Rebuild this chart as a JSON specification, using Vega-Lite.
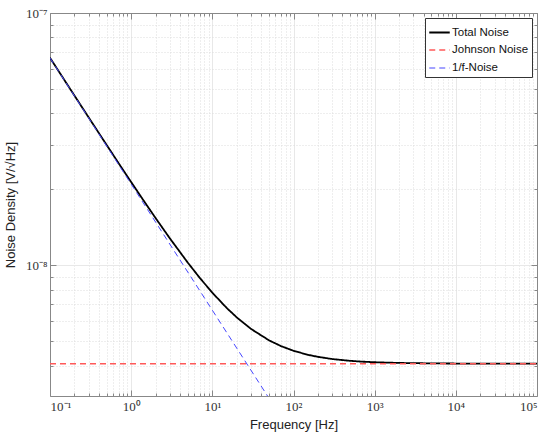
{
  "$schema": "https://vega.github.io/schema/vega-lite/v6.json",
  "width": 487,
  "height": 383,
  "autosize": "none",
  "padding": {"left": 50, "top": 13, "right": 13, "bottom": 41},
  "background": "white",
  "config": {
    "view": {"stroke": null},
    "axis": {
      "domainColor": "#888888",
      "tickColor": "#888888",
      "labelFont": "Liberation Serif",
      "labelFontSize": 13,
      "labelColor": "#333333",
      "titleFont": "Liberation Sans",
      "titleFontSize": 13,
      "titleFontWeight": "normal",
      "titleColor": "#222222"
    },
    "legend": {
      "labelFont": "Liberation Sans",
      "labelFontSize": 11.5,
      "labelColor": "#111111"
    }
  },
  "data": {
    "values": [
      {"f": 0.1, "v": 6.643e-8, "s": "Total Noise"},
      {"f": 0.2, "v": 4.706e-8, "s": "Total Noise"},
      {"f": 0.3, "v": 3.850e-8, "s": "Total Noise"},
      {"f": 0.5, "v": 2.993e-8, "s": "Total Noise"},
      {"f": 0.7, "v": 2.539e-8, "s": "Total Noise"},
      {"f": 1, "v": 2.136e-8, "s": "Total Noise"},
      {"f": 1.5, "v": 1.760e-8, "s": "Total Noise"},
      {"f": 2, "v": 1.5376e-8, "s": "Total Noise"},
      {"f": 3, "v": 1.2773e-8, "s": "Total Noise"},
      {"f": 5, "v": 1.0223e-8, "s": "Total Noise"},
      {"f": 7, "v": 8.909e-9, "s": "Total Noise"},
      {"f": 10, "v": 7.780e-9, "s": "Total Noise"},
      {"f": 15, "v": 6.773e-9, "s": "Total Noise"},
      {"f": 20, "v": 6.209e-9, "s": "Total Noise"},
      {"f": 30, "v": 5.588e-9, "s": "Total Noise"},
      {"f": 50, "v": 5.036e-9, "s": "Total Noise"},
      {"f": 70, "v": 4.780e-9, "s": "Total Noise"},
      {"f": 100, "v": 4.578e-9, "s": "Total Noise"},
      {"f": 150, "v": 4.415e-9, "s": "Total Noise"},
      {"f": 200, "v": 4.332e-9, "s": "Total Noise"},
      {"f": 300, "v": 4.246e-9, "s": "Total Noise"},
      {"f": 500, "v": 4.177e-9, "s": "Total Noise"},
      {"f": 700, "v": 4.146e-9, "s": "Total Noise"},
      {"f": 1000, "v": 4.1237e-9, "s": "Total Noise"},
      {"f": 2000, "v": 4.097e-9, "s": "Total Noise"},
      {"f": 5000, "v": 4.081e-9, "s": "Total Noise"},
      {"f": 10000, "v": 4.0754e-9, "s": "Total Noise"},
      {"f": 100000, "v": 4.0705e-9, "s": "Total Noise"},
      {"f": 0.1, "v": 4.07e-9, "s": "Johnson Noise"},
      {"f": 100000, "v": 4.07e-9, "s": "Johnson Noise"},
      {"f": 0.1, "v": 6.631e-8, "s": "1/f-Noise"},
      {"f": 60, "v": 2.707e-9, "s": "1/f-Noise"}
    ]
  },
  "resolve": {"axis": {"x": "independent", "y": "independent"}},
  "layer": [
    {
      "mark": {"type": "line", "clip": true},
      "encoding": {
        "x": {
          "field": "f", "type": "quantitative",
          "scale": {"type": "log", "domain": [0.1, 100000], "nice": false},
          "axis": {
            "orient": "bottom",
            "values": [0.1, 1, 10, 100, 1000, 10000, 100000],
            "labelExpr": "'10' + ['⁻¹','⁰','¹','²','³','⁴','⁵'][round(log(datum.value)/LN10) + 1]",
            "tickSize": -6,
            "labelPadding": 10,
            "grid": true,
            "gridColor": "#e8e8e8",
            "title": "Frequency [Hz]",
            "titlePadding": 5
          }
        },
        "y": {
          "field": "v", "type": "quantitative",
          "scale": {"type": "log", "domain": [3.03e-9, 1e-7], "nice": false},
          "axis": {
            "orient": "left",
            "values": [1e-8, 1e-7],
            "labelExpr": "datum.value < 5e-8 ? '10⁻⁸' : '10⁻⁷'",
            "tickSize": -6,
            "labelPadding": 9,
            "grid": true,
            "gridColor": "#e8e8e8",
            "title": "Noise Density [V/√Hz]",
            "titlePadding": 8
          }
        },
        "color": {
          "field": "s", "type": "nominal",
          "scale": {"domain": ["Total Noise", "Johnson Noise", "1/f-Noise"], "range": ["#000000", "#ff5a5a", "#4646ff"]},
          "legend": {
            "title": null,
            "orient": "top-right",
            "offset": 5,
            "symbolType": "stroke",
            "symbolSize": 420,
            "symbolStrokeWidth": 1.3,
            "fillColor": "white",
            "strokeColor": "#333333",
            "padding": 3,
            "rowPadding": 1,
            "labelOffset": 1
          }
        },
        "strokeDash": {
          "field": "s", "type": "nominal",
          "scale": {"domain": ["Total Noise", "Johnson Noise", "1/f-Noise"], "range": [[1, 0], [6, 4], [6, 4]]},
          "legend": {"title": null}
        },
        "strokeWidth": {
          "field": "s", "type": "nominal",
          "scale": {"domain": ["Total Noise", "Johnson Noise", "1/f-Noise"], "range": [1.8, 1, 0.9]},
          "legend": null
        }
      }
    },
    {
      "mark": {"type": "line", "opacity": 0},
      "encoding": {
        "x": {
          "field": "f", "type": "quantitative",
          "axis": {
            "orient": "bottom",
            "values": [0.2, 0.3, 0.4, 0.5, 0.6, 0.7, 0.8, 0.9, 2, 3, 4, 5, 6, 7, 8, 9, 20, 30, 40, 50, 60, 70, 80, 90, 200, 300, 400, 500, 600, 700, 800, 900, 2000, 3000, 4000, 5000, 6000, 7000, 8000, 9000, 20000, 30000, 40000, 50000, 60000, 70000, 80000, 90000],
            "labels": false,
            "domain": false,
            "tickSize": -3,
            "grid": true,
            "gridColor": "#dddddd",
            "gridDash": [1, 2],
            "title": null
          }
        },
        "y": {
          "field": "v", "type": "quantitative",
          "axis": {
            "orient": "left",
            "values": [4e-9, 5e-9, 6e-9, 7e-9, 8e-9, 9e-9, 2e-8, 3e-8, 4e-8, 5e-8, 6e-8, 7e-8, 8e-8, 9e-8],
            "labels": false,
            "domain": false,
            "tickSize": -3,
            "grid": true,
            "gridColor": "#dddddd",
            "gridDash": [1, 2],
            "title": null
          }
        }
      }
    },
    {
      "mark": {"type": "line", "opacity": 0},
      "encoding": {
        "x": {
          "field": "f", "type": "quantitative",
          "axis": {
            "orient": "top",
            "values": [0.1, 1, 10, 100, 1000, 10000, 100000],
            "labels": false,
            "tickSize": -6,
            "grid": false,
            "title": null
          }
        },
        "y": {
          "field": "v", "type": "quantitative",
          "axis": {
            "orient": "right",
            "values": [1e-8, 1e-7],
            "labels": false,
            "tickSize": -6,
            "grid": false,
            "title": null
          }
        }
      }
    },
    {
      "mark": {"type": "line", "opacity": 0},
      "encoding": {
        "x": {
          "field": "f", "type": "quantitative",
          "axis": {
            "orient": "top",
            "values": [0.2, 0.3, 0.4, 0.5, 0.6, 0.7, 0.8, 0.9, 2, 3, 4, 5, 6, 7, 8, 9, 20, 30, 40, 50, 60, 70, 80, 90, 200, 300, 400, 500, 600, 700, 800, 900, 2000, 3000, 4000, 5000, 6000, 7000, 8000, 9000, 20000, 30000, 40000, 50000, 60000, 70000, 80000, 90000],
            "labels": false,
            "domain": false,
            "tickSize": -3,
            "grid": false,
            "title": null
          }
        },
        "y": {
          "field": "v", "type": "quantitative",
          "axis": {
            "orient": "right",
            "values": [4e-9, 5e-9, 6e-9, 7e-9, 8e-9, 9e-9, 2e-8, 3e-8, 4e-8, 5e-8, 6e-8, 7e-8, 8e-8, 9e-8],
            "labels": false,
            "domain": false,
            "tickSize": -3,
            "grid": false,
            "title": null
          }
        }
      }
    }
  ]
}
